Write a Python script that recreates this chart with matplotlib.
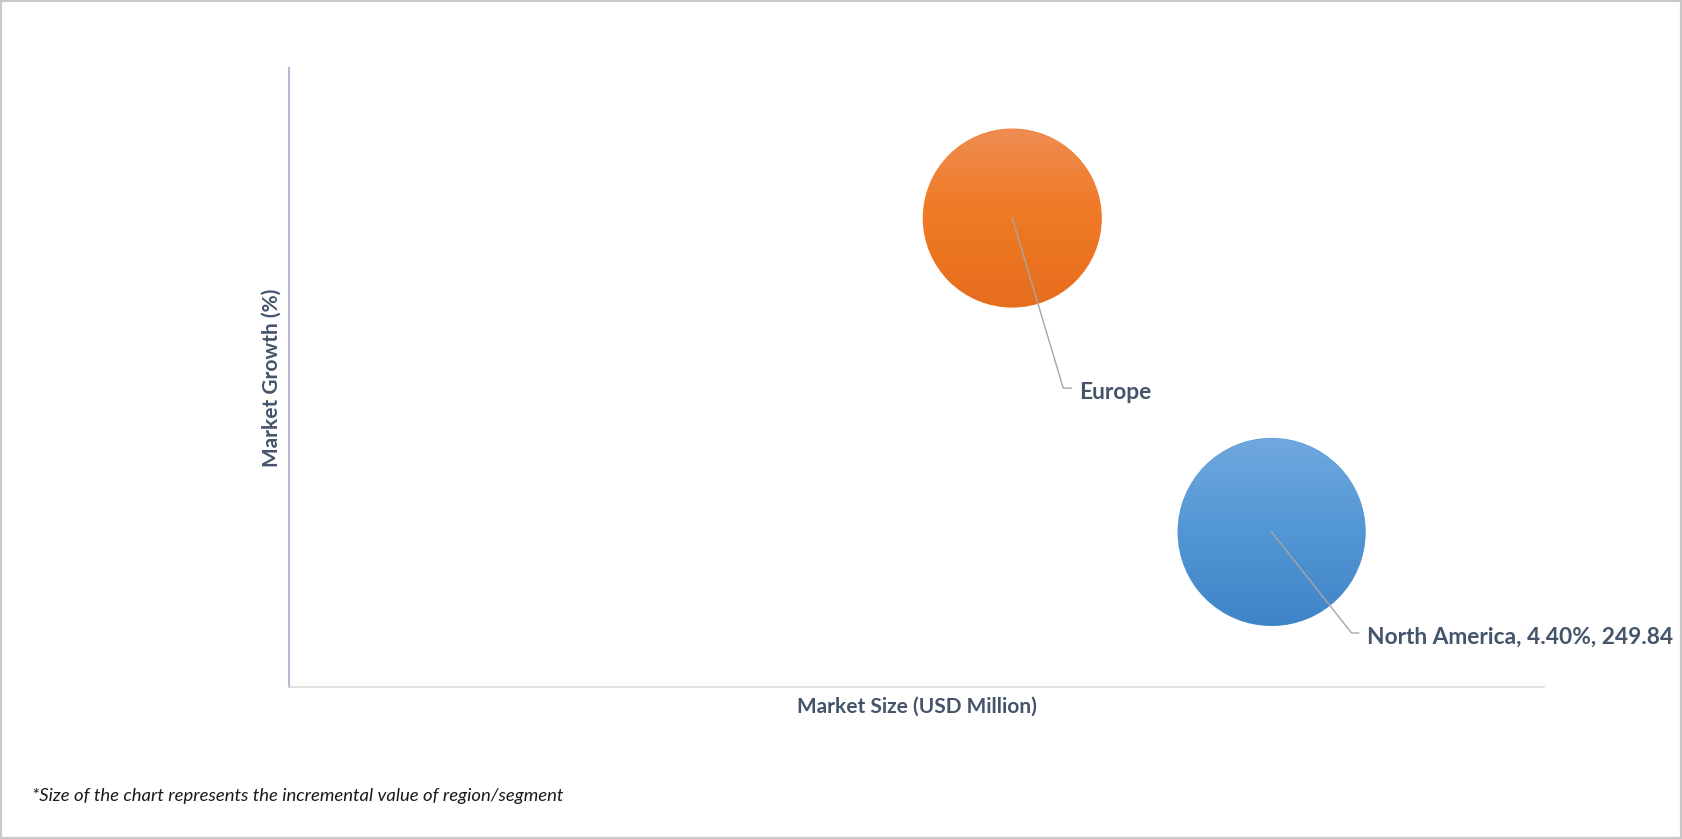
import matplotlib.pyplot as plt
import numpy as np
from matplotlib.patches import Circle, Rectangle
from matplotlib.colors import LinearSegmentedColormap
from matplotlib.transforms import IdentityTransform

plt.rcParams['font.family'] = ['Lato', 'DejaVu Sans']

# data
regions = ['Europe', 'North America']
market_size = [183.9, 249.84]      # USD Million
market_growth = [13.31, 4.40]      # %
incremental = [27.7, 30.6]         # bubble size
labels = ['Europe', 'North America, 4.40%, 249.84']
top_colors = ['#EE8D52', '#70A8DE']
mid_colors = ['#F07A26', '#5598D6']
bottom_colors = ['#E66D1C', '#3F84C6']
label_offsets = [(51, -170, 67), (80, -101, 95)]   # elbow dx, dy, text dx in pixels

text_col = '#44546A'
size_scale = 600

fig = plt.figure(figsize=(16.82, 8.39), dpi=100)
ax = fig.add_axes([289 / 1682, 1 - 687 / 839, 1255 / 1682, 619 / 839])

xlim = (0, 319.1)
ylim = (0, 17.57)
ax.set_xlim(xlim)
ax.set_ylim(ylim)

for i in range(len(regions)):
    s = incremental[i] * size_scale
    ax.scatter(market_size[i], market_growth[i], s=s, color=mid_colors[i],
               edgecolor='none', zorder=2)

    # gradient fill clipped to the bubble
    cx, cy = ax.transData.transform((market_size[i], market_growth[i]))
    r = np.sqrt(s) / 2 * fig.dpi / 72
    (x0, y0) = ax.transData.inverted().transform((cx - r, cy - r))
    (x1, y1) = ax.transData.inverted().transform((cx + r, cy + r))
    cmap = LinearSegmentedColormap.from_list(
        'g%d' % i, [(0, top_colors[i]), (0.45, mid_colors[i]), (1, bottom_colors[i])])
    grad = np.linspace(0, 1, 256).reshape(-1, 1)
    im = ax.imshow(grad, cmap=cmap, extent=(x0, x1, y0, y1), origin='upper',
                   aspect='auto', interpolation='bilinear', zorder=3)
    im.set_clip_path(Circle((cx, cy), r - 0.5, transform=IdentityTransform()))

    # leader line + label
    ex, ey, tx = label_offsets[i]
    elbow = ax.transData.inverted().transform((cx + ex, cy + ey))
    end = ax.transData.inverted().transform((cx + tx - 8, cy + ey))
    ax.plot([market_size[i], elbow[0], end[0]], [market_growth[i], elbow[1], end[1]],
            color='#A6A6A6', lw=1.0, zorder=4, solid_joinstyle='miter')
    ax.annotate(labels[i], (market_size[i], market_growth[i]),
                xytext=(tx, ey - 4), textcoords='offset pixels',
                ha='left', va='center', fontsize=16.4, fontweight='bold',
                color=text_col, zorder=5)

ax.set_xlim(xlim)
ax.set_ylim(ylim)
ax.set_xticks([])
ax.set_yticks([])
for side in ['top', 'right']:
    ax.spines[side].set_visible(False)
ax.spines['left'].set_color('#B8B8D0')
ax.spines['left'].set_linewidth(1.5)
ax.spines['bottom'].set_color('#D9D9D9')
ax.spines['bottom'].set_linewidth(1.1)

ax.set_xlabel('Market Size (USD Million)', fontsize=15, fontweight='bold',
              color=text_col, labelpad=7)
ax.set_ylabel('Market Growth (%)', fontsize=15, fontweight='bold',
              color=text_col, labelpad=5)

fig.text(32 / 1682, 1 - 796 / 839,
         '*Size of the chart represents the incremental value of region/segment',
         fontsize=13.3, style='italic', color='#1A1A1A', va='center', ha='left')

fig.patches.append(Rectangle((0, 0), 1, 1, transform=fig.transFigure, fill=False,
                             edgecolor='#C8C8C8', lw=3))

fig.savefig('out.png', dpi=100, facecolor='white')
